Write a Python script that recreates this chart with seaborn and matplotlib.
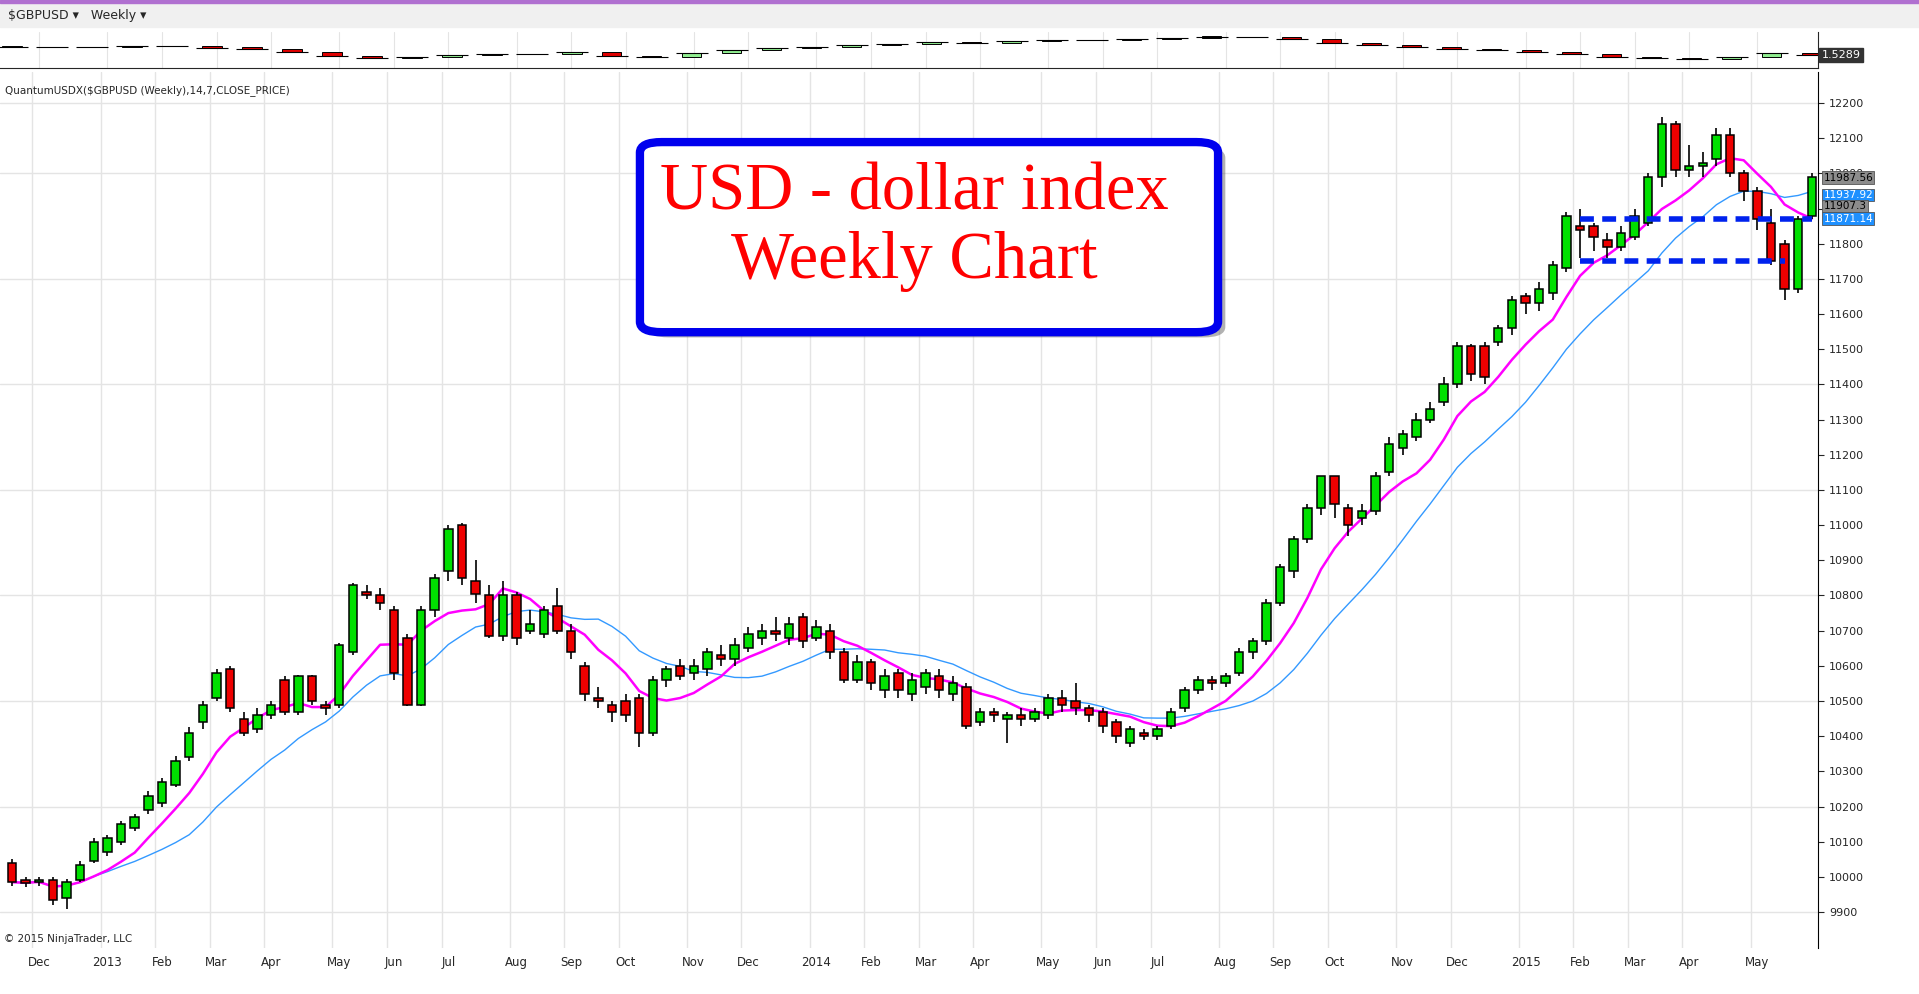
import numpy as np
import pandas as pd
import matplotlib
matplotlib.use("Agg")
import matplotlib.pyplot as plt
import seaborn as sns
from matplotlib.patches import FancyBboxPatch, Rectangle

sns.set_style("white")
plt.rcParams['font.family'] = ['DejaVu Sans']

# weekly USD index candles (Nov 2012 - May 2015)
opens = [10040, 9992, 9985, 9990, 9940, 9990, 10045, 10070, 10100, 10140, 10190, 10210, 10260, 10340, 10440, 10510,
         10590, 10450, 10420, 10460, 10560, 10470, 10570, 10490, 10490, 10640, 10810, 10800, 10760, 10680, 10490, 10760,
         10870, 11000, 10840, 10800, 10685, 10800, 10700, 10690, 10770, 10700, 10600, 10510, 10490, 10500, 10510, 10410,
         10560, 10600, 10580, 10590, 10630, 10620, 10650, 10680, 10700, 10680, 10740, 10680, 10700, 10640, 10560, 10610,
         10530, 10580, 10520, 10540, 10570, 10520, 10540, 10440, 10470, 10450, 10460, 10450, 10460, 10510, 10500, 10480,
         10470, 10440, 10380, 10410, 10400, 10430, 10480, 10530, 10560, 10550, 10580, 10640, 10670, 10780, 10870, 10960,
         11050, 11140, 11050, 11020, 11040, 11150, 11220, 11250, 11300, 11350, 11400, 11510, 11510, 11520, 11560, 11650,
         11630, 11660, 11730, 11850, 11850, 11810, 11790, 11820, 11860, 11990, 12140, 12010, 12020, 12040, 12110, 12000,
         11950, 11860, 11800, 11670, 11880]
closes = [9985, 9982, 9990, 9934, 9985, 10035, 10100, 10110, 10150, 10170, 10230, 10270, 10330, 10410, 10490, 10580,
          10480, 10410, 10460, 10490, 10470, 10570, 10500, 10480, 10660, 10830, 10800, 10780, 10580, 10490, 10760, 10850,
          10990, 10850, 10805, 10685, 10800, 10680, 10720, 10760, 10700, 10640, 10520, 10500, 10470, 10460, 10410, 10560,
          10590, 10570, 10600, 10640, 10620, 10660, 10690, 10700, 10690, 10720, 10670, 10710, 10640, 10560, 10610, 10550,
          10570, 10530, 10560, 10580, 10530, 10550, 10430, 10470, 10460, 10460, 10450, 10470, 10510, 10490, 10480, 10460,
          10430, 10400, 10420, 10400, 10420, 10470, 10530, 10560, 10550, 10570, 10640, 10670, 10780, 10880, 10960, 11050,
          11140, 11060, 11000, 11040, 11140, 11230, 11260, 11300, 11330, 11400, 11510, 11430, 11420, 11560, 11640, 11630,
          11670, 11740, 11880, 11840, 11820, 11790, 11830, 11880, 11990, 12140, 12010, 12020, 12030, 12110, 12000, 11950,
          11870, 11750, 11670, 11870, 11990]
highs = [10050, 10000, 10000, 10000, 9995, 10045, 10110, 10120, 10160, 10180, 10245, 10280, 10345, 10425, 10500, 10590,
         10600, 10470, 10480, 10500, 10570, 10575, 10575, 10500, 10665, 10835, 10830, 10820, 10770, 10690, 10770, 10860,
         11000, 11005, 10900, 10830, 10840, 10810, 10760, 10770, 10820, 10720, 10610, 10540, 10500, 10520, 10520, 10570,
         10600, 10620, 10620, 10650, 10660, 10680, 10710, 10720, 10740, 10740, 10750, 10730, 10720, 10650, 10630, 10620,
         10590, 10590, 10580, 10590, 10590, 10570, 10550, 10480, 10480, 10470, 10480, 10480, 10520, 10530, 10550, 10490,
         10480, 10450, 10430, 10420, 10430, 10480, 10540, 10570, 10570, 10580, 10650, 10680, 10790, 10890, 10970, 11060,
         11140, 11140, 11060, 11060, 11150, 11250, 11270, 11320, 11350, 11420, 11520, 11515, 11520, 11570, 11650, 11660,
         11690, 11750, 11890, 11900, 11860, 11830, 11850, 11900, 12000, 12160, 12150, 12080, 12060, 12130, 12130, 12010,
         11960, 11900, 11810, 11880, 12000]
lows = [9975, 9970, 9975, 9920, 9910, 9985, 10040, 10060, 10090, 10130, 10180, 10200, 10255, 10330, 10420, 10500,
        10470, 10400, 10410, 10450, 10460, 10460, 10490, 10460, 10480, 10630, 10790, 10760, 10560, 10485, 10485, 10740,
        10840, 10830, 10780, 10680, 10670, 10660, 10690, 10680, 10690, 10620, 10500, 10480, 10440, 10440, 10370, 10400,
        10540, 10560, 10560, 10570, 10600, 10600, 10640, 10660, 10670, 10660, 10650, 10670, 10620, 10550, 10550, 10530,
        10510, 10510, 10500, 10520, 10510, 10500, 10420, 10430, 10440, 10380, 10430, 10440, 10450, 10470, 10460, 10440,
        10410, 10380, 10370, 10390, 10390, 10420, 10470, 10520, 10530, 10540, 10570, 10620, 10660, 10770, 10850, 10950,
        11030, 11020, 10970, 11000, 11030, 11140, 11200, 11240, 11290, 11340, 11390, 11410, 11400, 11510, 11540, 11600,
        11610, 11640, 11720, 11760, 11780, 11760, 11780, 11810, 11850, 11960, 11990, 11990, 11990, 12020, 11990, 11920,
        11840, 11740, 11640, 11660, 11870]

month_idx = [2, 7, 11, 15, 19, 24, 28, 32, 37, 41, 45, 50, 54, 59, 63, 67, 71, 76, 80, 84, 89, 93, 97, 102, 106, 111, 115, 119, 123, 128]
month_lbl = ["Dec", "2013", "Feb", "Mar", "Apr", "May", "Jun", "Jul", "Aug", "Sep", "Oct", "Nov", "Dec", "2014", "Feb", "Mar",
             "Apr", "May", "Jun", "Jul", "Aug", "Sep", "Oct", "Nov", "Dec", "2015", "Feb", "Mar", "Apr", "May"]

# GBPUSD mini strip
mini_open = [1.612, 1.612, 1.610, 1.613, 1.616, 1.618, 1.606, 1.586, 1.560, 1.522, 1.505, 1.512, 1.526, 1.536, 1.541, 1.556,
             1.522, 1.511, 1.551, 1.580, 1.600, 1.612, 1.632, 1.641, 1.656, 1.651, 1.666, 1.680, 1.677, 1.690, 1.700, 1.715,
             1.712, 1.690, 1.655, 1.628, 1.612, 1.590, 1.576, 1.560, 1.540, 1.515, 1.505, 1.490, 1.510, 1.550]
mini_close = [1.612, 1.610, 1.613, 1.618, 1.618, 1.605, 1.586, 1.560, 1.520, 1.505, 1.512, 1.526, 1.536, 1.541, 1.556, 1.520,
              1.511, 1.551, 1.580, 1.600, 1.612, 1.632, 1.641, 1.656, 1.651, 1.666, 1.680, 1.677, 1.690, 1.700, 1.715, 1.712,
              1.690, 1.655, 1.628, 1.612, 1.590, 1.576, 1.560, 1.540, 1.515, 1.505, 1.490, 1.510, 1.550, 1.529]

grid_levels = [9900, 10200, 10500, 10800, 11100, 11400, 11700, 12000]
box_levels = [11870, 11750]
tags = [(11987.56, "11987.56", "#8c8c8c"), (11937.92, "11937.92", "#1e90ff"),
        (11907.3, "11907.3", "#8c8c8c"), (11871.14, "11871.14", "#1e90ff")]

df = pd.DataFrame({"open": opens, "close": closes, "high": highs, "low": lows})
df["i"] = np.arange(len(df))
df["fast"] = df["close"].rolling(7, min_periods=1).mean()
df["slow"] = df["close"].rolling(14, min_periods=1).mean()

fig = plt.figure(figsize=(19.19, 9.94), dpi=100)
W, H = 1919, 994

# toolbar
fig.patches.append(Rectangle((0, 1 - 27 / H), 1, 27 / H, transform=fig.transFigure, color="#f0f0f0", zorder=0))
fig.patches.append(Rectangle((0, 1 - 3 / H), 1, 3 / H, transform=fig.transFigure, color="#b070d0", zorder=1))
fig.text(8 / W, 1 - 16 / H, "$GBPUSD ▾   Weekly ▾", fontsize=9, va="center")

xmax = len(df) - 1 + 0.45
# mini panel
axm = fig.add_axes([0, 1 - 68 / H, 1818 / W, 36 / H])
mi = np.linspace(0, len(df) - 1, len(mini_close))
mo, mc = np.array(mini_open), np.array(mini_close)
mcol = np.where(mc >= mo, "#90ee90", "#e00000")
axm.bar(mi, np.maximum(np.abs(mc - mo), 0.003), bottom=np.minimum(mo, mc), width=1.4, color=mcol,
        edgecolor="black", linewidth=0.7)
axm.hlines(mc, mi - 1.2, mi + 1.2, color="black", linewidth=0.8)
axm.set_xlim(-0.88, xmax)
axm.set_ylim(1.40, 1.76)
axm.set_xticks(month_idx)
axm.grid(axis="x", color="#e4e4e4")
axm.set_xticklabels([])
axm.set_yticks([])
axm.tick_params(length=0)
for s in ["top", "left"]:
    axm.spines[s].set_visible(False)
axm.text(1.002, (1.5289 - 1.40) / 0.36, "1.5289", transform=axm.transAxes, fontsize=8, color="white", va="center",
         bbox=dict(boxstyle="square,pad=0.2", fc="#333333", ec="#333333"))

# main panel
ax = fig.add_axes([0, 46 / H, 1818 / W, 876 / H])
ax.set_xlim(-0.88, xmax)
ax.set_ylim(9798, 12288)
for g in grid_levels:
    ax.axhline(g, color="#e4e4e4", linewidth=1, zorder=0)
for m in month_idx:
    ax.axvline(m - 0.5, color="#e4e4e4", linewidth=1, zorder=0)
ax.axhline(12200, color="#e4e4e4", linewidth=1, zorder=0)

sns.lineplot(data=df, x="i", y="slow", color="#3399ff", linewidth=1, ax=ax, zorder=2)
sns.lineplot(data=df, x="i", y="fast", color="#ff00ff", linewidth=1.8, ax=ax, zorder=2)

ax.vlines(df["i"], df["low"], df["high"], color="black", linewidth=1.2, zorder=3)
body_col = np.where(df["close"] >= df["open"], "#00e000", "#ee0000")
body_h = np.maximum((df["close"] - df["open"]).abs(), 6)
ax.bar(df["i"], body_h, bottom=np.minimum(df["open"], df["close"]), width=0.62, color=body_col,
       edgecolor="black", linewidth=1.1, zorder=4)

ax.hlines(box_levels[0], 115, len(df) - 1, color="#0022ee", linewidth=4, linestyles=(0, (2.5, 1.5)), zorder=5)
ax.hlines(box_levels[1], 115, len(df) - 3, color="#0022ee", linewidth=4, linestyles=(0, (2.5, 1.5)), zorder=5)

ax.yaxis.tick_right()
ax.set_yticks(range(9900, 12201, 100))
ax.set_yticklabels([str(v) for v in range(9900, 12201, 100)], fontsize=8)
ax.tick_params(axis="y", length=4, pad=4)
ax.set_xticks(month_idx)
ax.set_xticklabels(month_lbl, fontsize=8.5)
ax.tick_params(axis="x", length=0, pad=6)
ax.set_xlabel("")
ax.set_ylabel("")
for s in ["top", "left", "bottom"]:
    ax.spines[s].set_visible(False)
ax.spines["right"].set_color("black")

for val, txt, col in tags:
    ax.text(1.003, (val - 9798) / (12288 - 9798), txt, transform=ax.transAxes, fontsize=7.5,
            color="white" if col != "#8c8c8c" else "black", va="center", zorder=6,
            bbox=dict(boxstyle="square,pad=0.12", fc=col, ec="#555555", lw=0.6), clip_on=False)

ax.text(0.003, 0.985, "QuantumUSDX($GBPUSD (Weekly),14,7,CLOSE_PRICE)", transform=ax.transAxes, fontsize=7.5, va="top")
ax.text(0.002, 0.005, "© 2015 NinjaTrader, LLC", transform=ax.transAxes, fontsize=7.5, va="bottom")

shadow = FancyBboxPatch((0.356, 0.697), 0.318, 0.217, boxstyle="round,pad=0,rounding_size=0.012",
                        transform=ax.transAxes, fc="#666666", ec="none", alpha=0.5, zorder=6)
box = FancyBboxPatch((0.352, 0.703), 0.318, 0.217, boxstyle="round,pad=0,rounding_size=0.012",
                     transform=ax.transAxes, fc="white", ec="#0000ee", lw=6, zorder=7)
ax.add_patch(shadow)
ax.add_patch(box)
ax.text(0.503, 0.862, "USD - dollar index", transform=ax.transAxes, fontsize=48, color="red",
        family=["Liberation Serif", "DejaVu Serif"], ha="center", va="center", zorder=8)
ax.text(0.503, 0.784, "Weekly Chart", transform=ax.transAxes, fontsize=48, color="red",
        family=["Liberation Serif", "DejaVu Serif"], ha="center", va="center", zorder=8)

fig.savefig("out.png", dpi=100)
